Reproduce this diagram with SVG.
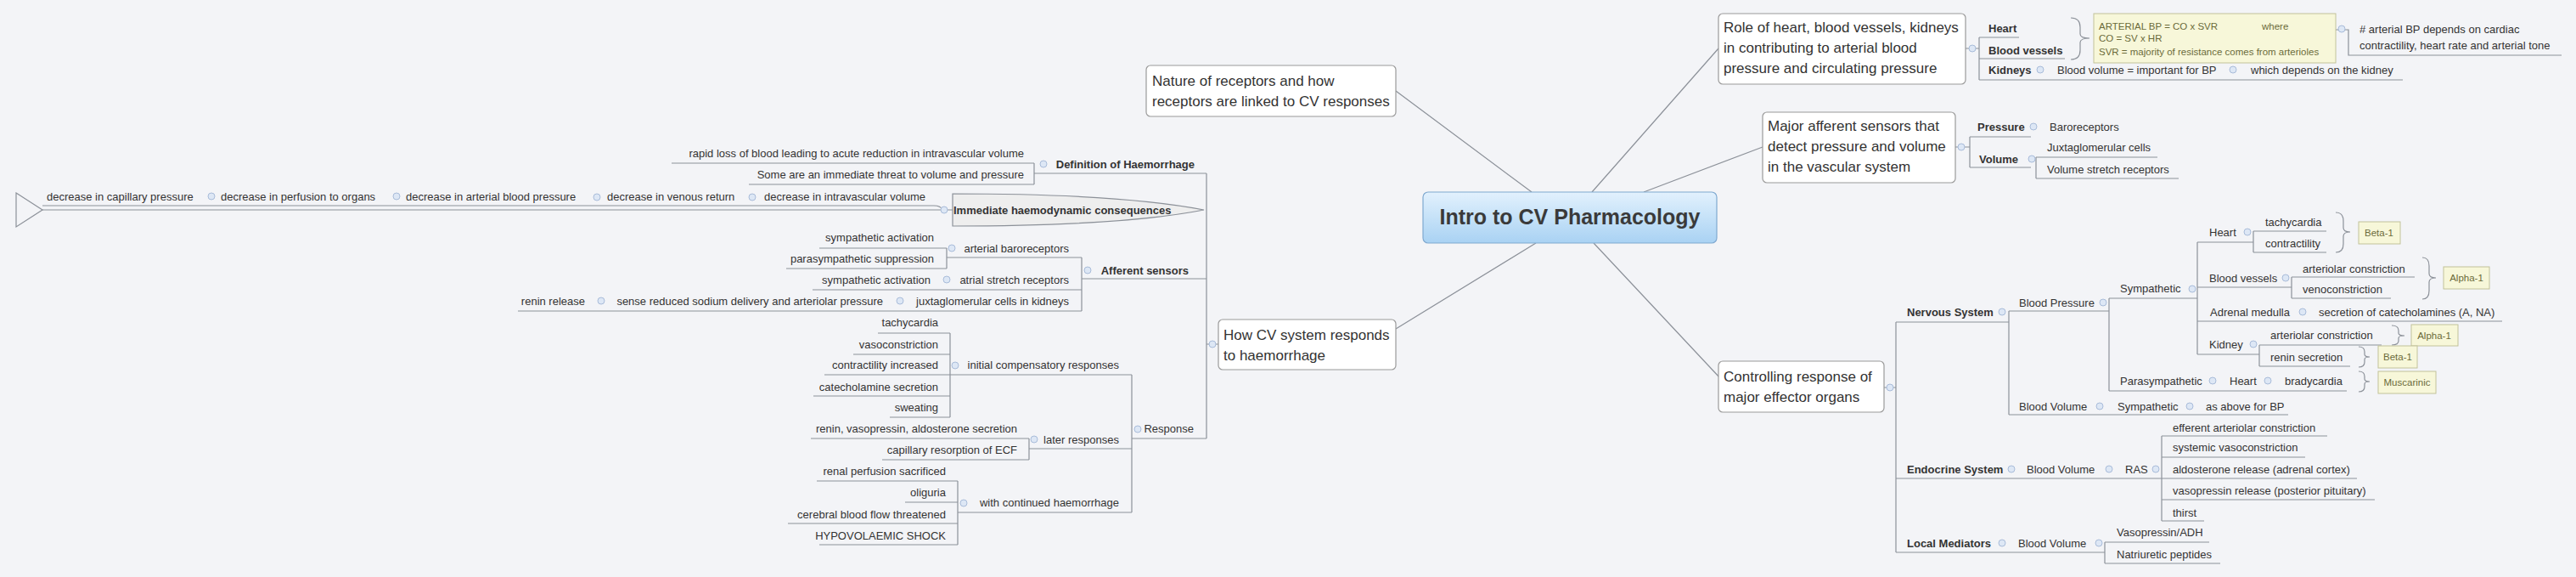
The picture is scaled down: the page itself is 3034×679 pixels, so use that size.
<svg xmlns="http://www.w3.org/2000/svg" width="3034" height="679" viewBox="0 0 3034 679">
<defs>
<linearGradient id="cg" x1="0" y1="0" x2="0" y2="1"><stop offset="0" stop-color="#e2f1fd"/><stop offset="1" stop-color="#a9d2f3"/></linearGradient>
<style>
.l{stroke:#8c9199;stroke-width:1.2;fill:none}
.t{font-family:"Liberation Sans",Arial,sans-serif;font-size:13px;fill:#333}
.e{text-anchor:end}
.b{font-weight:bold}
.m{font-family:"Liberation Sans",Arial,sans-serif;font-size:17px;fill:#333}
.n{font-family:"Liberation Sans",Arial,sans-serif;font-size:11.5px;fill:#6b6b3a}
.box{fill:#fff;stroke:#9a9a9a;stroke-width:1.2}
.note{fill:#f7f7d9;stroke:#c2c29a;stroke-width:1}
.d{fill:#dde7f5;stroke:#a9bcd9;stroke-width:1}
.br{stroke:#8c9199;stroke-width:1.2;fill:none}
</style>
</defs>
<rect width="3034" height="679" fill="#f3f4f7"/>
<g id="connectors">
<path class="l" d="M1804 226 L1644 107 M1875 226 L2024 57 M1936 226 L2076 173 M1809 286 L1644 387 M1877 286 L2026 445"/>
<path class="l" d="M1218 204 H1421 M791 192 H1218 M882 217 H1218 M1218 192 V217 M1421 204 V516 M1421 405 H1435"/>
<path class="l" d="M50 242 H1100 Q1108 242 1110 247 M50 247 H1122"/>
<path class="l" d="M1274 328 H1421 M1274 303 V366 M1115 303 H1274 M957 341 H1274 M610 366 H1274 M1115 292 V316 M965 292 H1115 M926 316 H1115"/>
<path class="l" d="M1333 516 H1421 M1333 441 V603 M1119 441 H1333 M1212 528 H1333 M1128 603 H1333 M1119 392 V491 M1034 392 H1119 M1005 417 H1119 M971 441 H1119 M958 466 H1119 M1048 491 H1119 M1212 516 V541 M955 516 H1212 M1039 541 H1212 M1128 566 V641 M962 566 H1128 M1066 591 H1128 M928 616 H1128 M965 641 H1128"/>
<path class="l" d="M2315 57 H2331 M2331 44 V94 M2331 44 H2378 M2331 69 H2432 M2331 94 H2830 M2751 35 H2766 V65 H3017"/>
<path class="l" d="M2303 173 H2320 M2320 161 V197 M2320 161 H2392 M2320 197 H2392 M2398 185 V210 M2398 185 H2541 M2398 210 H2566"/>
<path class="l" d="M2219 456 H2233 M2233 379 V650 M2233 379 H2366 M2366 366 V488 M2366 366 H2484 M2366 488 H2695 M2484 351 V460 M2484 351 H2588 M2484 460 H2764 M2588 285 V417 M2588 285 H2654 M2588 338 H2699 M2588 378 H2947 M2588 417 H2661 M2654 272 V297 M2654 272 H2740 M2654 297 H2740 M2699 326 V351 M2699 326 H2844 M2699 351 H2816 M2661 406 V431 M2661 406 H2805 M2661 431 H2768"/>
<path class="l" d="M2233 563 H2546 M2546 513 V613 M2546 513 H2741 M2546 538 H2715 M2546 563 H2776 M2546 588 H2797 M2546 613 H2596 M2233 650 H2479 M2479 638 V663 M2479 638 H2602 M2479 663 H2615"/>
<path class="br" d="M2439 21 Q2450 21 2450 32 V40 Q2450 45 2461 45 Q2450 45 2450 50 V59 Q2450 70 2439 70"/>
<path class="br" d="M2751 250 Q2760 250 2760 260 V268 Q2760 273 2768 273 Q2760 273 2760 278 V287 Q2760 297 2751 297"/>
<path class="br" d="M2853 303 Q2861 303 2861 313 V322 Q2861 327 2869 327 Q2861 327 2861 332 V342 Q2861 352 2853 352"/>
<path class="br" d="M2817 383 Q2825 383 2825 389 V392 Q2825 395 2832 395 Q2825 395 2825 398 V401 Q2825 406 2817 406"/>
<path class="br" d="M2778 408 Q2785 408 2785 414 V417 Q2785 420 2791 420 Q2785 420 2785 423 V426 Q2785 432 2778 432"/>
<path class="br" d="M2778 437 Q2785 437 2785 443 V446 Q2785 449 2791 449 Q2785 449 2785 452 V455 Q2785 461 2778 461"/>
</g>
<g id="central"><rect x="1676" y="226" width="346" height="60" rx="6" fill="url(#cg)" stroke="#7fa9d0" stroke-width="1.2"/><text x="1849" y="264" text-anchor="middle" font-family="Liberation Sans,Arial,sans-serif" font-size="25" font-weight="bold" fill="#3a3a3a">Intro to CV Pharmacology</text></g>
<g id="nature"><rect class="box" x="1350" y="77" width="294" height="60" rx="5"/><text class="m" x="1357" y="101">Nature of receptors and how</text><text class="m" x="1357" y="125">receptors are linked to CV responses</text></g>
<g id="role"><rect class="box" x="2024" y="16" width="291" height="83" rx="5"/><text class="m" x="2030" y="38">Role of heart, blood vessels, kidneys</text><text class="m" x="2030" y="62">in contributing to arterial blood</text><text class="m" x="2030" y="86">pressure and circulating pressure</text></g>
<g id="major"><rect class="box" x="2076" y="132" width="227" height="83" rx="5"/><text class="m" x="2082" y="154">Major afferent sensors that</text><text class="m" x="2082" y="178">detect pressure and volume</text><text class="m" x="2082" y="202">in the vascular system</text></g>
<g id="howcv"><rect class="box" x="1435" y="376" width="209" height="59" rx="5"/><text class="m" x="1441" y="400">How CV system responds</text><text class="m" x="1441" y="424">to haemorrhage</text></g>
<g id="controlling"><rect class="box" x="2024" y="425" width="195" height="60" rx="5"/><text class="m" x="2030" y="449">Controlling response of</text><text class="m" x="2030" y="473">major effector organs</text></g>
<g id="dots">
<circle class="d" cx="1428" cy="405" r="4"/><circle class="d" cx="1229" cy="193" r="4"/><circle class="d" cx="1112" cy="247" r="4"/>
<circle class="d" cx="249" cy="231" r="4"/><circle class="d" cx="467" cy="231" r="4"/><circle class="d" cx="703" cy="232" r="4"/><circle class="d" cx="886" cy="232" r="4"/>
<circle class="d" cx="1281" cy="318" r="4"/><circle class="d" cx="1121" cy="292" r="4"/><circle class="d" cx="1115" cy="329" r="4"/><circle class="d" cx="1060" cy="354" r="4"/><circle class="d" cx="708" cy="354" r="4"/>
<circle class="d" cx="1340" cy="505" r="4"/><circle class="d" cx="1125" cy="430" r="4"/><circle class="d" cx="1218" cy="517" r="4"/><circle class="d" cx="1135" cy="592" r="4"/>
<circle class="d" cx="2323" cy="57" r="4"/><circle class="d" cx="2403" cy="82" r="4"/><circle class="d" cx="2630" cy="82" r="4"/><circle class="d" cx="2758" cy="34" r="4"/>
<circle class="d" cx="2310" cy="173" r="4"/><circle class="d" cx="2395" cy="149" r="4"/><circle class="d" cx="2393" cy="187" r="4"/>
<circle class="d" cx="2226" cy="456" r="4"/><circle class="d" cx="2358" cy="367" r="4"/><circle class="d" cx="2477" cy="356" r="4"/><circle class="d" cx="2582" cy="340" r="4"/><circle class="d" cx="2647" cy="273" r="4"/><circle class="d" cx="2692" cy="327" r="4"/><circle class="d" cx="2712" cy="367" r="4"/><circle class="d" cx="2654" cy="405" r="4"/><circle class="d" cx="2606" cy="448" r="4"/><circle class="d" cx="2671" cy="448" r="4"/><circle class="d" cx="2473" cy="478" r="4"/><circle class="d" cx="2579" cy="478" r="4"/>
<circle class="d" cx="2369" cy="552" r="4"/><circle class="d" cx="2484" cy="552" r="4"/><circle class="d" cx="2539" cy="552" r="4"/><circle class="d" cx="2358" cy="639" r="4"/><circle class="d" cx="2472" cy="639" r="4"/>
</g>
<g id="definition"><text class="t b e" x="1407" y="198">Definition of Haemorrhage</text><text class="t e" x="1206" y="185">rapid loss of blood leading to acute reduction in intravascular volume</text><text class="t e" x="1206" y="210">Some are an immediate threat to volume and pressure</text></g>
<g id="immediate"><path d="M1122 228 Q1320 228 1418 247 Q1320 266 1122 266 Z" fill="#eeeeee" stroke="#8c9199" stroke-width="1.2"/><text class="t b" x="1123" y="252">Immediate haemodynamic consequences</text>
<path d="M19 227 L50 247 L19 267 Z" fill="#f3f4f7" stroke="#8c9199" stroke-width="1.2"/>
<text class="t" x="55" y="236">decrease in capillary pressure</text><text class="t" x="260" y="236">decrease in perfusion to organs</text><text class="t" x="478" y="236">decrease in arterial blood pressure</text><text class="t" x="715" y="236">decrease in venous return</text><text class="t" x="900" y="236">decrease in intravascular volume</text></g>
<g id="afferent"><text class="t b e" x="1400" y="323">Afferent sensors</text><text class="t e" x="1259" y="297">arterial baroreceptors</text><text class="t e" x="1100" y="284">sympathetic activation</text><text class="t e" x="1100" y="309">parasympathetic suppression</text><text class="t e" x="1259" y="334">atrial stretch receptors</text><text class="t e" x="1096" y="334">sympathetic activation</text><text class="t e" x="1259" y="359">juxtaglomerular cells in kidneys</text><text class="t e" x="1040" y="359">sense reduced sodium delivery and arteriolar pressure</text><text class="t e" x="689" y="359">renin release</text></g>
<g id="response"><text class="t e" x="1406" y="509">Response</text><text class="t e" x="1318" y="434">initial compensatory responses</text><text class="t e" x="1105" y="384">tachycardia</text><text class="t e" x="1105" y="410">vasoconstriction</text><text class="t e" x="1105" y="434">contractility increased</text><text class="t e" x="1105" y="460">catecholamine secretion</text><text class="t e" x="1105" y="484">sweating</text><text class="t e" x="1318" y="522">later responses</text><text class="t e" x="1198" y="509">renin, vasopressin, aldosterone secretion</text><text class="t e" x="1198" y="534">capillary resorption of ECF</text><text class="t e" x="1318" y="596">with continued haemorrhage</text><text class="t e" x="1114" y="559">renal perfusion sacrificed</text><text class="t e" x="1114" y="584">oliguria</text><text class="t e" x="1114" y="610">cerebral blood flow threatened</text><text class="t e" x="1114" y="635">HYPOVOLAEMIC SHOCK</text></g>
<g id="role-children"><text class="t b" x="2342" y="38">Heart</text><text class="t b" x="2342" y="64">Blood vessels</text><text class="t b" x="2342" y="87">Kidneys</text><text class="t" x="2423" y="87">Blood volume = important for BP</text><text class="t" x="2651" y="87">which depends on the kidney</text>
<rect class="note" x="2466" y="16" width="285" height="58"/><text class="n" x="2472" y="35">ARTERIAL BP = CO x SVR</text><text class="n" x="2664" y="35">where</text><text class="n" x="2472" y="49">CO = SV x HR</text><text class="n" x="2472" y="65">SVR = majority of resistance comes from arterioles</text>
<text class="t" x="2779" y="39">&#35; arterial BP depends on cardiac</text><text class="t" x="2779" y="58">contractility, heart rate and arterial tone</text></g>
<g id="major-children"><text class="t b" x="2329" y="154">Pressure</text><text class="t" x="2414" y="154">Baroreceptors</text><text class="t b" x="2331" y="192">Volume</text><text class="t" x="2411" y="178">Juxtaglomerular cells</text><text class="t" x="2411" y="204">Volume stretch receptors</text></g>
<g id="nervous"><text class="t b" x="2246" y="372">Nervous System</text><text class="t" x="2378" y="361">Blood Pressure</text><text class="t" x="2497" y="344">Sympathetic</text><text class="t" x="2602" y="278">Heart</text><text class="t" x="2668" y="266">tachycardia</text><text class="t" x="2668" y="291">contractility</text>
<rect class="note" x="2778" y="261" width="49" height="26"/><text class="n" x="2802" y="278" text-anchor="middle">Beta-1</text>
<text class="t" x="2602" y="332">Blood vessels</text><text class="t" x="2712" y="321">arteriolar constriction</text><text class="t" x="2712" y="345">venoconstriction</text>
<rect class="note" x="2878" y="314" width="54" height="26"/><text class="n" x="2905" y="331" text-anchor="middle">Alpha-1</text>
<text class="t" x="2603" y="372">Adrenal medulla</text><text class="t" x="2731" y="372">secretion of catecholamines (A, NA)</text>
<text class="t" x="2602" y="410">Kidney</text><text class="t" x="2674" y="399">arteriolar constriction</text><text class="t" x="2674" y="425">renin secretion</text>
<rect class="note" x="2840" y="382" width="55" height="25"/><text class="n" x="2867" y="399" text-anchor="middle">Alpha-1</text>
<rect class="note" x="2801" y="407" width="46" height="26"/><text class="n" x="2824" y="424" text-anchor="middle">Beta-1</text>
<text class="t" x="2497" y="453">Parasympathetic</text><text class="t" x="2626" y="453">Heart</text><text class="t" x="2691" y="453">bradycardia</text>
<rect class="note" x="2801" y="437" width="68" height="26"/><text class="n" x="2835" y="454" text-anchor="middle">Muscarinic</text>
<text class="t" x="2378" y="483">Blood Volume</text><text class="t" x="2494" y="483">Sympathetic</text><text class="t" x="2598" y="483">as above for BP</text></g>
<g id="endocrine"><text class="t b" x="2246" y="557">Endocrine System</text><text class="t" x="2387" y="557">Blood Volume</text><text class="t" x="2503" y="557">RAS</text><text class="t" x="2559" y="508">efferent arteriolar constriction</text><text class="t" x="2559" y="531">systemic vasoconstriction</text><text class="t" x="2559" y="557">aldosterone release (adrenal cortex)</text><text class="t" x="2559" y="582">vasopressin release (posterior pituitary)</text><text class="t" x="2559" y="608">thirst</text></g>
<g id="local"><text class="t b" x="2246" y="644">Local Mediators</text><text class="t" x="2377" y="644">Blood Volume</text><text class="t" x="2493" y="631">Vasopressin/ADH</text><text class="t" x="2493" y="657">Natriuretic peptides</text></g>
</svg>
